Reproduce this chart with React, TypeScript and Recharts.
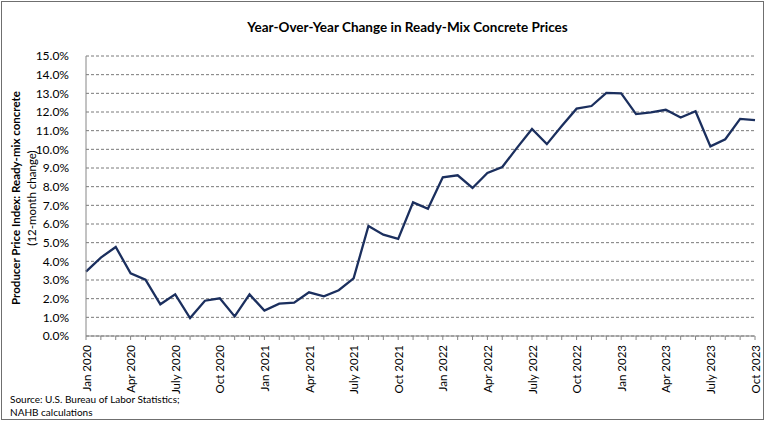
import React from 'react'
import { LineChart, Line, XAxis, YAxis, CartesianGrid } from 'recharts'

// monthly labels, Jan 2020 .. Oct 2023
const monthNames = ['Jan', 'Feb', 'Mar', 'Apr', 'May', 'June', 'July', 'Aug', 'Sep', 'Oct', 'Nov', 'Dec']
const years = [2020, 2021, 2022, 2023]
const months = years
  .flatMap((yr) => monthNames.map((m) => `${m} ${yr}`))
  .slice(0, 46)

// year-over-year change, percent
const yoyChange = [
  3.45, 4.2, 4.77, 3.36, 3.02, 1.7, 2.23, 0.96, 1.89, 2.02, 1.05, 2.23,
  1.36, 1.73, 1.79, 2.34, 2.13, 2.45, 3.09, 5.89, 5.43, 5.2, 7.16, 6.82,
  8.5, 8.61, 7.93, 8.73, 9.05, 10.09, 11.09, 10.28, 11.25, 12.18, 12.32, 13.02,
  13.0, 11.89, 11.98, 12.12, 11.7, 12.04, 10.16, 10.54, 11.63, 11.56,
]

const yTicks = [0, 1, 2, 3, 4, 5, 6, 7, 8, 9, 10, 11, 12, 13, 14, 15]

const data = months.map((month, i) => ({ month, value: yoyChange[i] }))

const FONT = 'Lato, "Liberation Sans", sans-serif'

const MonthTick = ({ x, y, payload, index }: any) => {
  if (index % 3 !== 0) return null
  return (
    <text
      x={x}
      y={y + 3}
      transform={`rotate(-90 ${x} ${y + 3})`}
      textAnchor="end"
      dominantBaseline="central"
      fontSize={11.5}
      fontFamily={FONT}
      fill="#000"
    >
      {payload.value}
    </text>
  )
}

const renderYLabel = () => (
  <g fontFamily={FONT} fill="#000">
    <text
      x={15}
      y={198}
      transform="rotate(-90 15 198)"
      textAnchor="middle"
      dominantBaseline="central"
      fontSize={11.5}
      fontWeight={700}
    >
      Producer Price Index: Ready-mix concrete
    </text>
    <text
      x={31}
      y={198}
      transform="rotate(-90 31 198)"
      textAnchor="middle"
      dominantBaseline="central"
      fontSize={11.5}
    >
      (12-month change)
    </text>
  </g>
)

export default function App() {
  return (
    <div style={{ position: 'absolute', left: 0, top: 0, width: 765, height: 421, background: '#fff' }}>
      <div
        style={{
          position: 'absolute',
          left: 1,
          top: 1,
          width: 763,
          height: 419,
          border: '1px solid #6f6f6f',
          boxSizing: 'border-box',
        }}
      />
      <div
        style={{
          position: 'absolute',
          left: 0,
          top: 19,
          width: 815,
          textAlign: 'center',
          fontFamily: FONT,
          fontWeight: 700,
          fontSize: 13.5,
          color: '#000',
        }}
      >
        Year-Over-Year Change in Ready-Mix Concrete Prices
      </div>
      <div
        style={{
          position: 'absolute',
          left: 10,
          top: 393,
          fontFamily: FONT,
          fontSize: 10,
          lineHeight: '13px',
          color: '#000',
        }}
      >
        Source: U.S. Bureau of Labor Statistics;
        <br />
        NAHB calculations
      </div>
      <LineChart
        width={765}
        height={421}
        data={data}
        margin={{ top: 56, right: 10, bottom: 0, left: 0 }}
        style={{ position: 'absolute', left: 0, top: 0 }}
      >
        <CartesianGrid vertical={false} stroke="#7a7a7a" strokeDasharray="3 2" />
        <XAxis
          dataKey="month"
          interval={0}
          tick={<MonthTick />}
          tickSize={4}
          stroke="#868686"
          tickLine={{ stroke: '#868686' }}
          height={85}
        />
        <YAxis
          width={86}
          domain={[0, 15]}
          ticks={yTicks}
          interval={0}
          tickFormatter={(v: number) => `${v.toFixed(1)}%`}
          tickLine={false}
          stroke="#868686"
          tick={{ fill: '#000', fontSize: 12, fontFamily: FONT }}
          tickMargin={11}
          label={renderYLabel}
        />
        <Line
          type="linear"
          dataKey="value"
          stroke="#1b2f5e"
          strokeWidth={2.3}
          dot={false}
          isAnimationActive={false}
        />
      </LineChart>
    </div>
  )
}
